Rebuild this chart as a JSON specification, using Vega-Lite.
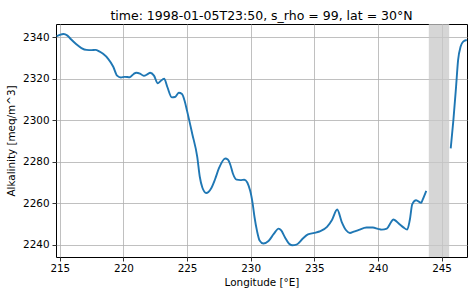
{
  "$schema": "https://vega.github.io/schema/vega-lite/v6.json",
  "width": 411,
  "height": 233,
  "autosize": "none",
  "padding": {"left": 56, "top": 24, "right": 7, "bottom": 40},
  "background": "white",
  "config": {
    "font": "DejaVu Sans",
    "view": {"stroke": "#000000", "strokeWidth": 1},
    "axis": {
      "domain": false,
      "grid": true,
      "gridColor": "#b0b0b0",
      "gridWidth": 0.8,
      "tickColor": "#000000",
      "tickSize": 4,
      "tickWidth": 0.8,
      "labelFont": "DejaVu Sans",
      "labelFontSize": 10.4,
      "labelColor": "#000000",
      "titleFont": "DejaVu Sans",
      "titleFontSize": 10.4,
      "titleFontWeight": "normal",
      "titleColor": "#000000"
    }
  },
  "title": {
    "text": "time: 1998-01-05T23:50, s_rho = 99, lat = 30°N",
    "font": "DejaVu Sans",
    "fontSize": 12.5,
    "fontWeight": "normal",
    "color": "#000000",
    "anchor": "middle",
    "baseline": "alphabetic",
    "offset": 7,
    "dy": 15
  },
  "datasets": {
    "line": [
      {"lon": 214.75, "alk": 2340.5, "seg": "a"},
      {"lon": 215.0, "alk": 2341.2, "seg": "a"},
      {"lon": 215.3, "alk": 2341.6, "seg": "a"},
      {"lon": 215.6, "alk": 2340.8, "seg": "a"},
      {"lon": 215.9, "alk": 2338.9, "seg": "a"},
      {"lon": 216.3, "alk": 2336.6, "seg": "a"},
      {"lon": 216.7, "alk": 2334.8, "seg": "a"},
      {"lon": 217.1, "alk": 2333.9, "seg": "a"},
      {"lon": 217.5, "alk": 2333.8, "seg": "a"},
      {"lon": 217.8, "alk": 2333.9, "seg": "a"},
      {"lon": 218.1, "alk": 2333.2, "seg": "a"},
      {"lon": 218.4, "alk": 2332.0, "seg": "a"},
      {"lon": 218.8, "alk": 2329.6, "seg": "a"},
      {"lon": 219.2, "alk": 2325.8, "seg": "a"},
      {"lon": 219.5, "alk": 2321.5, "seg": "a"},
      {"lon": 219.8, "alk": 2320.6, "seg": "a"},
      {"lon": 220.1, "alk": 2320.9, "seg": "a"},
      {"lon": 220.5, "alk": 2320.7, "seg": "a"},
      {"lon": 220.8, "alk": 2322.3, "seg": "a"},
      {"lon": 221.0, "alk": 2322.9, "seg": "a"},
      {"lon": 221.3, "alk": 2322.5, "seg": "a"},
      {"lon": 221.6, "alk": 2321.4, "seg": "a"},
      {"lon": 221.9, "alk": 2322.2, "seg": "a"},
      {"lon": 222.1, "alk": 2322.9, "seg": "a"},
      {"lon": 222.4, "alk": 2321.5, "seg": "a"},
      {"lon": 222.7, "alk": 2317.8, "seg": "a"},
      {"lon": 222.9, "alk": 2318.8, "seg": "a"},
      {"lon": 223.2, "alk": 2320.0, "seg": "a"},
      {"lon": 223.45, "alk": 2316.0, "seg": "a"},
      {"lon": 223.8, "alk": 2311.0, "seg": "a"},
      {"lon": 224.05, "alk": 2311.2, "seg": "a"},
      {"lon": 224.35, "alk": 2313.2, "seg": "a"},
      {"lon": 224.6, "alk": 2312.6, "seg": "a"},
      {"lon": 224.8, "alk": 2309.5, "seg": "a"},
      {"lon": 225.0, "alk": 2304.5, "seg": "a"},
      {"lon": 225.4, "alk": 2293.6, "seg": "a"},
      {"lon": 225.8, "alk": 2282.3, "seg": "a"},
      {"lon": 226.0, "alk": 2272.7, "seg": "a"},
      {"lon": 226.2, "alk": 2267.5, "seg": "a"},
      {"lon": 226.5, "alk": 2264.9, "seg": "a"},
      {"lon": 226.9, "alk": 2267.2, "seg": "a"},
      {"lon": 227.2, "alk": 2271.5, "seg": "a"},
      {"lon": 227.5, "alk": 2276.7, "seg": "a"},
      {"lon": 228.0, "alk": 2281.5, "seg": "a"},
      {"lon": 228.2, "alk": 2281.0, "seg": "a"},
      {"lon": 228.4, "alk": 2278.5, "seg": "a"},
      {"lon": 228.6, "alk": 2274.3, "seg": "a"},
      {"lon": 228.9, "alk": 2271.3, "seg": "a"},
      {"lon": 229.2, "alk": 2271.1, "seg": "a"},
      {"lon": 229.5, "alk": 2271.3, "seg": "a"},
      {"lon": 229.95, "alk": 2266.2, "seg": "a"},
      {"lon": 230.15, "alk": 2260.0, "seg": "a"},
      {"lon": 230.3, "alk": 2253.3, "seg": "a"},
      {"lon": 230.5, "alk": 2246.5, "seg": "a"},
      {"lon": 230.7, "alk": 2242.0, "seg": "a"},
      {"lon": 231.0, "alk": 2240.5, "seg": "a"},
      {"lon": 231.4, "alk": 2241.7, "seg": "a"},
      {"lon": 231.8, "alk": 2245.0, "seg": "a"},
      {"lon": 232.2, "alk": 2247.7, "seg": "a"},
      {"lon": 232.4, "alk": 2246.8, "seg": "a"},
      {"lon": 232.7, "alk": 2243.4, "seg": "a"},
      {"lon": 233.0, "alk": 2240.5, "seg": "a"},
      {"lon": 233.25, "alk": 2239.7, "seg": "a"},
      {"lon": 233.6, "alk": 2240.0, "seg": "a"},
      {"lon": 234.1, "alk": 2242.9, "seg": "a"},
      {"lon": 234.5, "alk": 2244.9, "seg": "a"},
      {"lon": 235.0, "alk": 2245.6, "seg": "a"},
      {"lon": 235.4, "alk": 2246.3, "seg": "a"},
      {"lon": 236.0, "alk": 2248.5, "seg": "a"},
      {"lon": 236.4, "alk": 2252.0, "seg": "a"},
      {"lon": 236.8, "alk": 2256.9, "seg": "a"},
      {"lon": 237.15, "alk": 2251.0, "seg": "a"},
      {"lon": 237.5, "alk": 2246.9, "seg": "a"},
      {"lon": 237.8, "alk": 2245.6, "seg": "a"},
      {"lon": 238.1, "alk": 2246.2, "seg": "a"},
      {"lon": 238.5, "alk": 2247.1, "seg": "a"},
      {"lon": 239.1, "alk": 2248.2, "seg": "a"},
      {"lon": 239.6, "alk": 2248.2, "seg": "a"},
      {"lon": 240.0, "alk": 2247.6, "seg": "a"},
      {"lon": 240.3, "alk": 2247.2, "seg": "a"},
      {"lon": 240.7, "alk": 2247.7, "seg": "a"},
      {"lon": 241.0, "alk": 2250.5, "seg": "a"},
      {"lon": 241.2, "alk": 2252.1, "seg": "a"},
      {"lon": 241.7, "alk": 2249.8, "seg": "a"},
      {"lon": 242.0, "alk": 2248.3, "seg": "a"},
      {"lon": 242.3, "alk": 2247.2, "seg": "a"},
      {"lon": 242.5, "alk": 2251.7, "seg": "a"},
      {"lon": 242.7, "alk": 2259.5, "seg": "a"},
      {"lon": 243.0, "alk": 2261.4, "seg": "a"},
      {"lon": 243.4, "alk": 2260.1, "seg": "a"},
      {"lon": 243.5, "alk": 2261.4, "seg": "a"},
      {"lon": 243.8, "alk": 2265.9, "seg": "a"},
      {"lon": 245.72, "alk": 2286.4, "seg": "b"},
      {"lon": 245.93, "alk": 2300.0, "seg": "b"},
      {"lon": 246.14, "alk": 2316.1, "seg": "b"},
      {"lon": 246.3, "alk": 2329.0, "seg": "b"},
      {"lon": 246.5, "alk": 2335.5, "seg": "b"},
      {"lon": 246.7, "alk": 2337.9, "seg": "b"},
      {"lon": 246.98, "alk": 2338.7, "seg": "b"}
    ],
    "span": [{"start": 244.0, "end": 245.6}]
  },
  "layer": [
    {
      "data": {"name": "span"},
      "mark": {"type": "rect", "fill": "#c8c8c8", "opacity": 0.75},
      "encoding": {
        "x": {
          "field": "start", "type": "quantitative",
          "scale": {"domain": [214.7, 247], "nice": false, "zero": false},
          "axis": {"values": [215, 220, 225, 230, 235, 240, 245], "format": "d", "title": "Longitude [°E]", "labelPadding": 2, "titlePadding": 4, "labelFlush": false}
        },
        "x2": {"field": "end"}
      }
    },
    {
      "data": {"name": "line"},
      "mark": {"type": "line", "color": "#1f77b4", "strokeWidth": 1.9, "interpolate": "monotone", "clip": true},
      "encoding": {
        "x": {"field": "lon", "type": "quantitative"},
        "y": {
          "field": "alk", "type": "quantitative",
          "scale": {"domain": [2234, 2346.4], "nice": false, "zero": false},
          "axis": {"values": [2240, 2260, 2280, 2300, 2320, 2340], "format": "d", "title": "Alkalinity [meq/m^3]", "labelPadding": 3, "titlePadding": 6, "labelFlush": false}
        },
        "detail": {"field": "seg"}
      }
    }
  ]
}
